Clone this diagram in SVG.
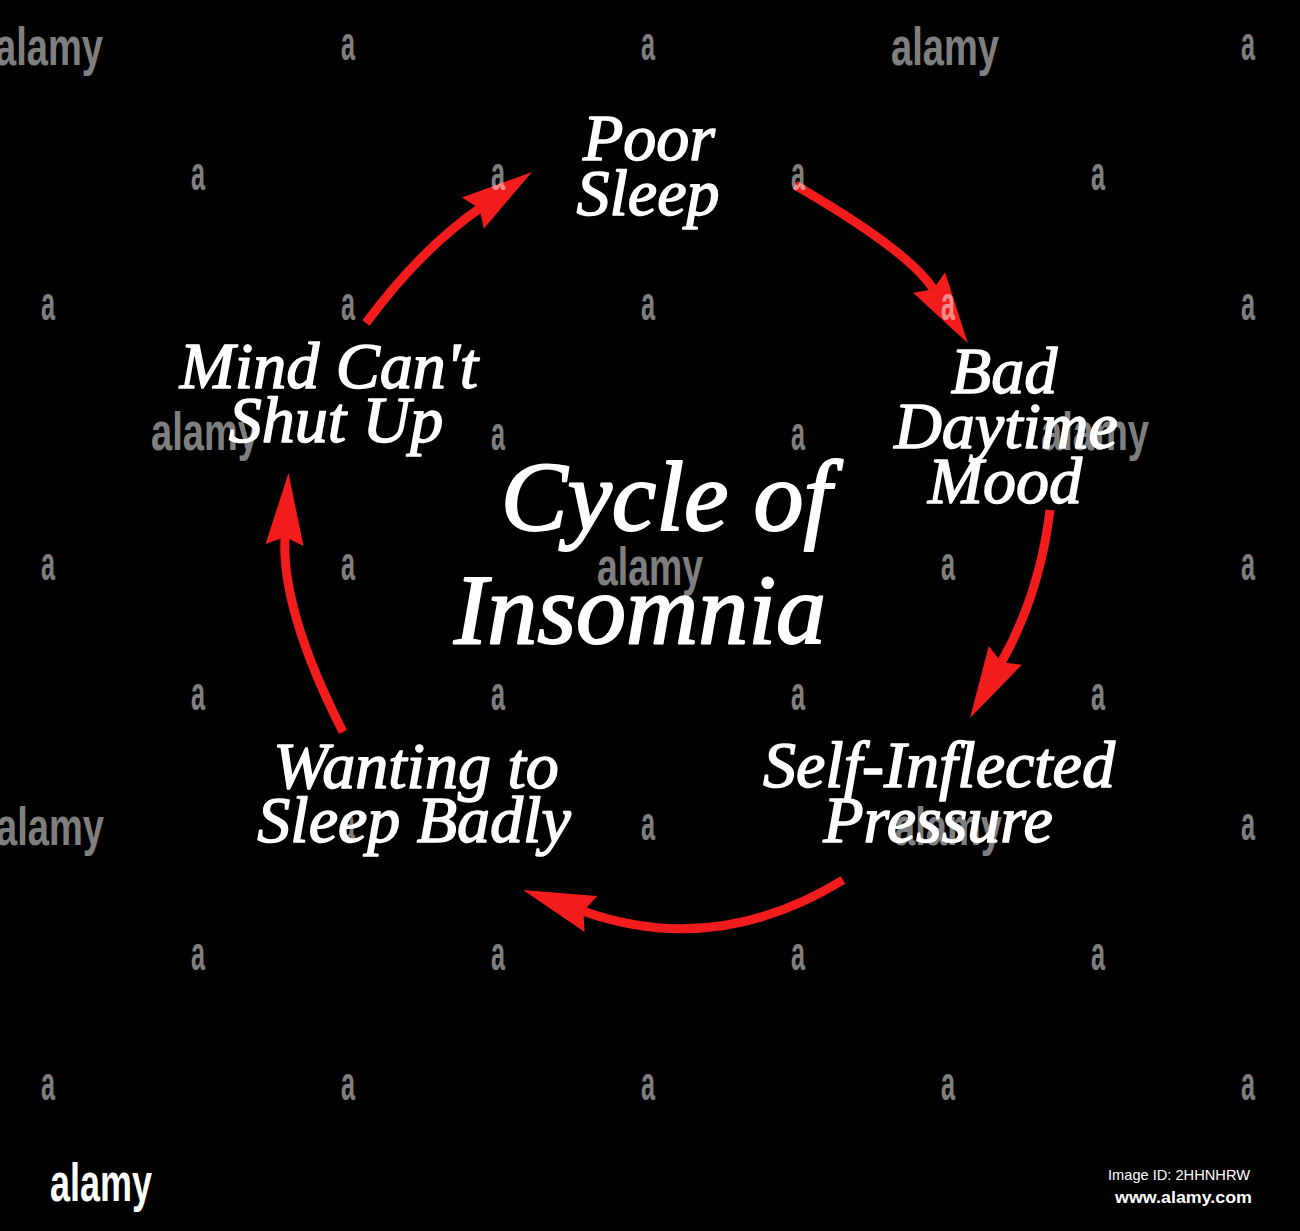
<svg xmlns="http://www.w3.org/2000/svg" width="1300" height="1231" viewBox="0 0 1300 1231">
  <defs>
    <style>
      .lbl { font-family: "Liberation Serif", "Times New Roman", serif; font-style: italic; font-size: 66px; fill: #ffffff; stroke: #ffffff; stroke-width: 1.5px; stroke-linejoin: round; text-anchor: middle; }
      .title { font-size: 100px; stroke-width: 2px; }
      .conn { fill: none; stroke: #f21c1c; stroke-width: 9; stroke-linecap: butt; marker-end: url(#head); }
      .wm { font-family: "Liberation Sans", Arial, sans-serif; font-weight: bold; fill: #ffffff; fill-opacity: 0.52; text-anchor: middle; }
      .wa { font-size: 48px; }
      .ww { font-size: 54px; }
      .foot { font-family: "Liberation Sans", Arial, sans-serif; fill: #ffffff; }
    </style>
    <marker id="head" markerUnits="userSpaceOnUse" markerWidth="80" markerHeight="44" viewBox="0 -22 80 44" refX="8" refY="0" orient="auto" overflow="visible">
      <path d="M72,0 L0,-19 L8,0 L0,19 Z" fill="#f21c1c"/>
    </marker>
  </defs>

  <rect x="0" y="0" width="1300" height="1231" fill="#000000"/>

  <g id="connectors">
    <path class="conn" d="M366,323 Q420,250 479.5,208.5"/>
    <path class="conn" d="M795,185 Q909,251 933.4,289.2"/>
    <path class="conn" d="M1050,510 Q1039.8,594 1001.4,662.3"/>
    <path class="conn" d="M843,880 Q715.5,958 583.4,911.3"/>
    <path class="conn" d="M343,732 Q281,610 285,537"/>
  </g>

  <g id="title">
    <text class="lbl title" x="666" y="530">Cycle of</text>
    <text class="lbl title" x="640" y="643">Insomnia</text>
  </g>

  <g id="node-poor-sleep">
    <text class="lbl" x="649" y="160">Poor</text>
    <text class="lbl" x="648" y="215">Sleep</text>
  </g>

  <g id="node-bad-daytime-mood">
    <text class="lbl" x="1004" y="393">Bad</text>
    <text class="lbl" x="1006" y="448">Daytime</text>
    <text class="lbl" x="1005" y="503">Mood</text>
  </g>

  <g id="node-self-inflected-pressure">
    <text class="lbl" x="939" y="787">Self-Inflected</text>
    <text class="lbl" x="938" y="842">Pressure</text>
  </g>

  <g id="node-wanting-to-sleep-badly">
    <text class="lbl" x="416" y="788">Wanting to</text>
    <text class="lbl" x="414" y="842">Sleep Badly</text>
  </g>

  <g id="node-mind-cant-shut-up">
    <text class="lbl" x="329" y="388">Mind Can't</text>
    <text class="lbl" x="336" y="442">Shut Up</text>
  </g>

  <g id="watermark">
    <text class="wm ww" x="49" y="65" textLength="108" lengthAdjust="spacingAndGlyphs">alamy</text>
    <text class="wm wa" x="348" y="60" textLength="14" lengthAdjust="spacingAndGlyphs">a</text>
    <text class="wm wa" x="648" y="60" textLength="14" lengthAdjust="spacingAndGlyphs">a</text>
    <text class="wm ww" x="945" y="65" textLength="108" lengthAdjust="spacingAndGlyphs">alamy</text>
    <text class="wm wa" x="1248" y="60" textLength="14" lengthAdjust="spacingAndGlyphs">a</text>

    <text class="wm wa" x="198" y="190" textLength="14" lengthAdjust="spacingAndGlyphs">a</text>
    <text class="wm wa" x="498" y="190" textLength="14" lengthAdjust="spacingAndGlyphs">a</text>
    <text class="wm wa" x="798" y="190" textLength="14" lengthAdjust="spacingAndGlyphs">a</text>
    <text class="wm wa" x="1098" y="190" textLength="14" lengthAdjust="spacingAndGlyphs">a</text>

    <text class="wm wa" x="48" y="320" textLength="14" lengthAdjust="spacingAndGlyphs">a</text>
    <text class="wm wa" x="348" y="320" textLength="14" lengthAdjust="spacingAndGlyphs">a</text>
    <text class="wm wa" x="648" y="320" textLength="14" lengthAdjust="spacingAndGlyphs">a</text>
    <text class="wm wa" x="948" y="320" textLength="14" lengthAdjust="spacingAndGlyphs">a</text>
    <text class="wm wa" x="1248" y="320" textLength="14" lengthAdjust="spacingAndGlyphs">a</text>

    <text class="wm ww" x="205" y="450" textLength="108" lengthAdjust="spacingAndGlyphs">alamy</text>
    <text class="wm wa" x="498" y="450" textLength="14" lengthAdjust="spacingAndGlyphs">a</text>
    <text class="wm wa" x="798" y="450" textLength="14" lengthAdjust="spacingAndGlyphs">a</text>
    <text class="wm ww" x="1095" y="450" textLength="108" lengthAdjust="spacingAndGlyphs">alamy</text>

    <text class="wm wa" x="48" y="580" textLength="14" lengthAdjust="spacingAndGlyphs">a</text>
    <text class="wm wa" x="348" y="580" textLength="14" lengthAdjust="spacingAndGlyphs">a</text>
    <text class="wm ww" x="650" y="585" textLength="106" lengthAdjust="spacingAndGlyphs">alamy</text>
    <text class="wm wa" x="948" y="580" textLength="14" lengthAdjust="spacingAndGlyphs">a</text>
    <text class="wm wa" x="1248" y="580" textLength="14" lengthAdjust="spacingAndGlyphs">a</text>

    <text class="wm wa" x="198" y="710" textLength="14" lengthAdjust="spacingAndGlyphs">a</text>
    <text class="wm wa" x="498" y="710" textLength="14" lengthAdjust="spacingAndGlyphs">a</text>
    <text class="wm wa" x="798" y="710" textLength="14" lengthAdjust="spacingAndGlyphs">a</text>
    <text class="wm wa" x="1098" y="710" textLength="14" lengthAdjust="spacingAndGlyphs">a</text>

    <text class="wm ww" x="50" y="845" textLength="108" lengthAdjust="spacingAndGlyphs">alamy</text>
    <text class="wm wa" x="348" y="840" textLength="14" lengthAdjust="spacingAndGlyphs">a</text>
    <text class="wm wa" x="648" y="840" textLength="14" lengthAdjust="spacingAndGlyphs">a</text>
    <text class="wm ww" x="948" y="845" textLength="108" lengthAdjust="spacingAndGlyphs">alamy</text>
    <text class="wm wa" x="1248" y="840" textLength="14" lengthAdjust="spacingAndGlyphs">a</text>

    <text class="wm wa" x="198" y="970" textLength="14" lengthAdjust="spacingAndGlyphs">a</text>
    <text class="wm wa" x="498" y="970" textLength="14" lengthAdjust="spacingAndGlyphs">a</text>
    <text class="wm wa" x="798" y="970" textLength="14" lengthAdjust="spacingAndGlyphs">a</text>
    <text class="wm wa" x="1098" y="970" textLength="14" lengthAdjust="spacingAndGlyphs">a</text>

    <text class="wm wa" x="48" y="1100" textLength="14" lengthAdjust="spacingAndGlyphs">a</text>
    <text class="wm wa" x="348" y="1100" textLength="14" lengthAdjust="spacingAndGlyphs">a</text>
    <text class="wm wa" x="648" y="1100" textLength="14" lengthAdjust="spacingAndGlyphs">a</text>
    <text class="wm wa" x="948" y="1100" textLength="14" lengthAdjust="spacingAndGlyphs">a</text>
    <text class="wm wa" x="1248" y="1100" textLength="14" lengthAdjust="spacingAndGlyphs">a</text>
  </g>

  <g id="footer">
    <text class="foot" x="50" y="1201" font-size="54" font-weight="bold" textLength="102" lengthAdjust="spacingAndGlyphs">alamy</text>
    <text class="foot" x="1108" y="1180" font-size="15" textLength="142" lengthAdjust="spacingAndGlyphs">Image ID: 2HHNHRW</text>
    <text class="foot" x="1115" y="1203" font-size="17" font-weight="bold" textLength="137" lengthAdjust="spacingAndGlyphs">www.alamy.com</text>
  </g>
</svg>
